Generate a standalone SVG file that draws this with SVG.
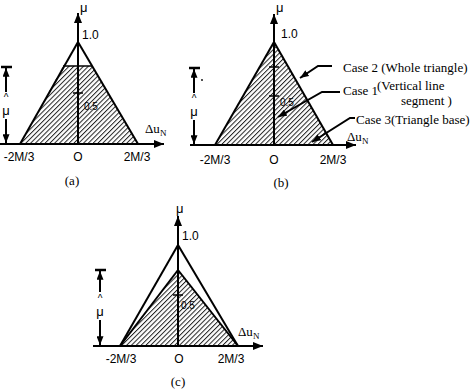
<svg xmlns="http://www.w3.org/2000/svg" width="474" height="392" viewBox="0 0 474 392">
<defs>
<pattern id="hatch" width="3.4" height="3.4" patternUnits="userSpaceOnUse" patternTransform="rotate(45)">
<line x1="0.5" y1="0" x2="0.5" y2="3.4" stroke="#222" stroke-width="1"/>
</pattern>
<marker id="arr" viewBox="0 0 10 8" refX="10" refY="4" markerWidth="10" markerHeight="8" markerUnits="userSpaceOnUse" orient="auto">
<path d="M0,0 L10,4 L0,8 z" fill="#000"/>
</marker>
<marker id="arrs" viewBox="0 0 10 8" refX="10" refY="4" markerWidth="9" markerHeight="7" markerUnits="userSpaceOnUse" orient="auto">
<path d="M0,0 L10,4 L0,8 z" fill="#000"/>
</marker>
</defs>
<style>
.ln{stroke:#000;stroke-width:2;fill:none}
.thin{stroke:#000;stroke-width:1.5;fill:none}
.ax{stroke:#000;stroke-width:2;fill:none;marker-end:url(#arr)}
.dim{stroke:#000;stroke-width:2;fill:none;marker-end:url(#arrs)}
.cap{stroke:#000;stroke-width:2.5}
.hat{fill:url(#hatch);stroke:none}
.sans{font-family:"Liberation Sans",Arial,sans-serif;font-size:12px;fill:#000}
.small{font-family:"Liberation Sans",Arial,sans-serif;font-size:10px;fill:#000}
.serif{font-family:"Liberation Serif","Times New Roman",serif;font-size:13px;fill:#000}
.sub{font-family:"Liberation Serif","Times New Roman",serif;font-size:9px;fill:#000}
.mu{font-family:"Liberation Sans",Arial,sans-serif;font-size:13px;fill:#000}
.hatc{font-family:"Liberation Sans",Arial,sans-serif;font-size:10px;fill:#000}
</style>

<g id="panel-a">
<polygon class="hat" points="20,144 63,66 92,66 138,144"/>
<line class="ln" x1="20" y1="144" x2="78" y2="42"/>
<line class="ln" x1="78" y1="42" x2="138" y2="144"/>
<line class="thin" x1="63" y1="66" x2="92" y2="66"/>
<line class="ax" x1="0" y1="144" x2="164" y2="144"/>
<line class="ax" x1="78" y1="144" x2="78" y2="13"/>
<line class="thin" x1="73" y1="93" x2="83" y2="93"/>
<line class="cap" x1="1" y1="67" x2="12" y2="67"/>
<line class="dim" x1="6" y1="92" x2="6" y2="68"/>
<line class="dim" x1="6" y1="119" x2="6" y2="143"/>
<text class="hatc" x="6" y="101" text-anchor="middle">^</text>
<text class="mu" x="6" y="115" text-anchor="middle">μ</text>
<text class="mu" x="80" y="12">μ</text>
<text class="sans" x="82" y="39">1.0</text>
<text class="small" x="84" y="110">0.5</text>
<text class="serif" x="145" y="133">Δu<tspan class="sub" dy="3">N</tspan></text>
<text class="sans" x="19" y="161" text-anchor="middle">-2M/3</text>
<text class="sans" x="78" y="161" text-anchor="middle">O</text>
<text class="sans" x="137" y="161" text-anchor="middle">2M/3</text>
<text class="serif" x="72" y="185" text-anchor="middle">(a)</text>
</g>

<g id="panel-b">
<polygon class="hat" points="215,145 274,42 333,145"/>
<line class="ln" x1="215" y1="145" x2="274" y2="42"/>
<line class="ln" x1="274" y1="42" x2="333" y2="145"/>
<line class="ax" x1="190" y1="145" x2="356" y2="145"/>
<line class="ax" x1="274" y1="145" x2="274" y2="14"/>
<line class="thin" x1="269" y1="67" x2="279" y2="67"/>
<line class="thin" x1="269" y1="96" x2="279" y2="96"/>
<line class="cap" x1="189" y1="68" x2="200" y2="68"/>
<line class="dim" x1="194" y1="93" x2="194" y2="69"/>
<line class="dim" x1="194" y1="120" x2="194" y2="144"/>
<circle cx="202" cy="80" r="0.9" fill="#000"/>
<text class="hatc" x="194" y="102" text-anchor="middle">^</text>
<text class="mu" x="194" y="116" text-anchor="middle">μ</text>
<text class="mu" x="276" y="12">μ</text>
<text class="sans" x="281" y="38">1.0</text>
<text class="small" x="280" y="106">0.5</text>
<text class="serif" x="347" y="141">Δu<tspan class="sub" dy="3">N</tspan></text>
<text class="sans" x="215" y="164" text-anchor="middle">-2M/3</text>
<text class="sans" x="274" y="164" text-anchor="middle">O</text>
<text class="sans" x="333" y="164" text-anchor="middle">2M/3</text>
<text class="serif" x="281" y="187" text-anchor="middle">(b)</text>
<text class="serif" x="343" y="72">Case 2  (Whole triangle)</text>
<text class="serif" x="343" y="95">Case 1</text>
<text class="serif" x="377" y="90">(Vertical line</text>
<text class="serif" x="401" y="105">segment )</text>
<text class="serif" x="356" y="124">Case 3(Triangle base)</text>
</g>

<g id="panel-c">
<polygon class="hat" points="120,346 178,270 238,346"/>
<line class="ln" x1="120" y1="346" x2="178" y2="270"/>
<line class="ln" x1="178" y1="270" x2="238" y2="346"/>
<line class="ln" x1="120" y1="346" x2="178" y2="245"/>
<line class="ln" x1="178" y1="245" x2="238" y2="346"/>
<line class="ax" x1="93" y1="346" x2="263" y2="346"/>
<line class="ax" x1="178" y1="346" x2="178" y2="216"/>
<line class="thin" x1="173" y1="295" x2="183" y2="295"/>
<line class="cap" x1="95" y1="270" x2="106" y2="270"/>
<line class="dim" x1="100" y1="292" x2="100" y2="271"/>
<line class="dim" x1="100" y1="320" x2="100" y2="345"/>
<text class="hatc" x="100" y="302" text-anchor="middle">^</text>
<text class="mu" x="100" y="316" text-anchor="middle">μ</text>
<text class="mu" x="176" y="213">μ</text>
<text class="sans" x="182" y="240">1.0</text>
<text class="small" x="181" y="309">0.5</text>
<text class="serif" x="238" y="336">Δu<tspan class="sub" dy="3">N</tspan></text>
<text class="sans" x="121" y="363" text-anchor="middle">-2M/3</text>
<text class="sans" x="179" y="363" text-anchor="middle">O</text>
<text class="sans" x="231" y="363" text-anchor="middle">2M/3</text>
<text class="serif" x="178" y="386" text-anchor="middle">(c)</text>
</g>

<g id="connectors">
<polyline class="dim" points="332,66 318,66 300,78"/>
<polyline class="dim" points="340,92 322,92 278,117"/>
<polyline class="dim" points="355,118 350,118 312,142"/>
</g>
</svg>
